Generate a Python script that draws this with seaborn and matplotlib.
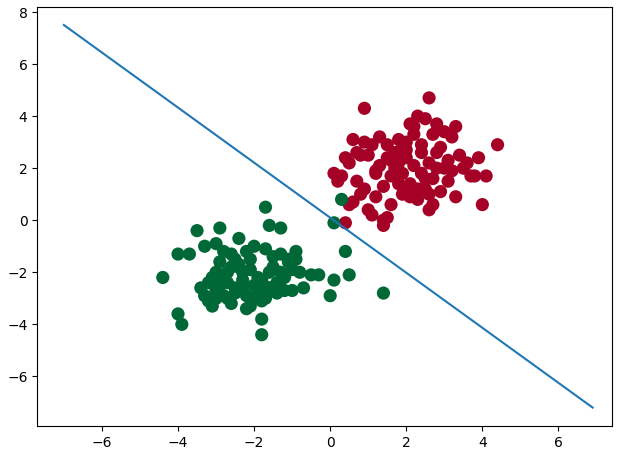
import matplotlib
matplotlib.use("Agg")
import matplotlib.pyplot as plt
import seaborn as sns
import pandas as pd

red_x = [0.9,2.6,4.4,4.0,0.4,1.4,3.3,2.6,3.8,4.1,3.9,3.6,3.3,3.2,3.0,2.8,2.7,2.5,2.3,2.2,2.1,2.0,1.9,1.8,1.7,1.6,1.5,1.3,1.2,1.1,1.0,0.9,0.8,0.7,0.6,0.5,0.4,0.3,0.2,0.1,
         2.0,2.2,2.4,2.6,2.8,3.0,1.8,1.6,1.4,1.2,2.9,3.1,2.5,2.3,2.1,1.9,1.7,2.7,3.4,1.0,0.6,0.8,1.5,2.4,2.0,1.3,3.5,2.9,2.2,1.8,
         0.5,0.7,1.1,1.6,2.1,2.6,3.1,3.7,1.4,1.9,2.4,2.8,0.9,1.2,2.0,2.5,3.2,1.5,2.3,2.7]
red_y = [4.3,4.7,2.9,0.6,-0.1,-0.2,0.9,0.4,1.7,1.7,2.4,2.2,3.6,3.2,3.4,3.7,3.3,3.9,4.0,3.6,3.7,3.0,2.8,3.1,2.6,2.3,2.9,3.2,1.9,2.9,2.5,3.0,2.5,2.6,3.1,2.2,2.4,1.7,1.5,1.8,
         2.4,2.1,1.8,2.2,2.6,2.0,1.4,1.7,1.3,0.9,1.1,1.5,1.2,0.8,0.9,1.0,2.0,1.6,2.5,0.4,0.7,1.0,0.1,2.9,2.7,2.1,2.0,2.8,3.3,2.2,
         0.6,1.5,0.2,0.6,1.4,1.0,2.3,1.7,0.0,1.8,2.6,2.0,1.2,1.8,1.1,1.6,1.9,2.4,1.2,0.6]
green_x = [-4.4,-3.9,-4.0,-1.8,-1.8,-1.7,0.3,0.1,0.4,0.5,0.1,0.0,1.4,-3.5,-2.9,-4.0,-3.7,-1.6,-1.3,-0.9,-0.3,-0.5,
           -3.4,-3.2,-3.1,-3.0,-2.9,-2.8,-2.7,-2.6,-2.5,-2.4,-2.3,-2.2,-2.1,-2.0,-1.9,-1.8,-1.7,-1.6,-1.5,-1.4,-1.3,-1.2,-1.1,-1.0,
           -3.3,-3.0,-2.8,-2.6,-2.4,-2.2,-2.0,-1.8,-1.6,-1.4,-1.2,-2.5,-2.3,-2.1,-1.9,-1.7,-3.1,-2.7,-2.9,-1.5,-0.8,-1.0,-3.2,-2.2,
           -2.0,-1.8,-2.6,-1.3,-0.9,-3.0,-2.4,-1.6,-1.9,-2.1,-2.8,-1.1,-3.3,-2.5,-1.7,-2.3,-1.4,-3.0,-2.7,-0.7]
green_y = [-2.2,-4.0,-3.6,-4.4,-3.8,0.5,0.8,-0.1,-1.2,-2.1,-2.3,-2.9,-2.8,-0.4,-0.3,-1.3,-1.3,-0.2,-0.3,-1.2,-2.1,-2.1,
           -2.6,-3.1,-2.2,-0.9,-2.5,-1.2,-2.0,-1.8,-2.8,-0.7,-2.3,-2.9,-1.5,-1.0,-2.7,-2.3,-1.1,-2.6,-1.8,-2.4,-1.3,-2.2,-1.6,-1.9,
           -1.0,-2.0,-2.9,-1.3,-1.8,-3.4,-2.5,-3.1,-2.0,-2.8,-2.7,-1.5,-2.6,-1.9,-2.2,-3.0,-3.3,-2.4,-1.6,-1.4,-2.0,-2.7,-2.4,-1.2,
           -3.0,-2.8,-3.2,-2.0,-1.5,-3.0,-1.7,-2.6,-2.4,-3.3,-2.1,-1.5,-2.9,-2.6,-2.9,-2.0,-2.5,-2.7,-3.0,-2.6]
line_x = [-7.0, 6.9]
line_y = [7.5, -7.2]

df = pd.DataFrame({"x": red_x + green_x, "y": red_y + green_y,
                   "c": ["r"] * len(red_x) + ["g"] * len(green_x)})

fig, ax = plt.subplots(figsize=(6.21, 4.53), dpi=100)
sns.scatterplot(data=df, x="x", y="y", hue="c", palette={"r": "#a50026", "g": "#006837"},
                s=90, linewidth=0, legend=False, ax=ax)
sns.lineplot(x=line_x, y=line_y, ax=ax, color="#1f77b4")
ax.set_xlim(-7.7, 7.4)
ax.set_ylim(-7.9, 8.2)
ax.set_xlabel("")
ax.set_ylabel("")
fig.subplots_adjust(left=0.06, right=0.985, top=0.985, bottom=0.06)
fig.savefig("out.png")
